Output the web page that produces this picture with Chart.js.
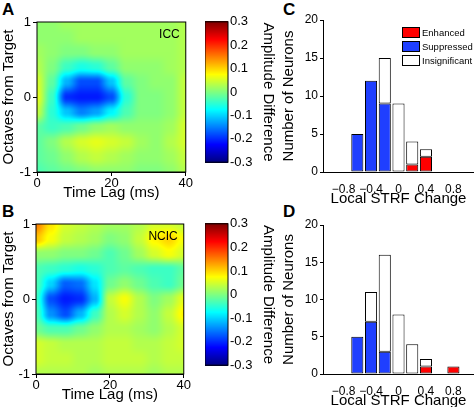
<!DOCTYPE html>
<html><head><meta charset="utf-8">
<script src="https://cdn.jsdelivr.net/npm/chart.js@4"></script>
<style>
body{margin:0;background:#fff;width:474px;height:407px;overflow:hidden;position:relative;font-family:"Liberation Sans",Arial,sans-serif}
.c{position:absolute}
.lt{position:absolute;font-weight:bold;font-size:17px;color:#000}
</style></head><body>
<div class="lt" style="left:2px;top:0px">A</div>
<div class="lt" style="left:2px;top:202px">B</div>
<div class="lt" style="left:283px;top:0px">C</div>
<div class="lt" style="left:283px;top:202px">D</div>
<div class="c" style="left:0;top:12px;width:193px;height:190px"><canvas id="hA"></canvas></div>
<div class="c" style="left:205px;top:12px;width:72px;height:160px"><canvas id="cA"></canvas></div>
<div class="c" style="left:0;top:214px;width:191px;height:190px"><canvas id="hB"></canvas></div>
<div class="c" style="left:205px;top:214px;width:72px;height:161px"><canvas id="cB"></canvas></div>
<div class="c" style="left:280px;top:10px;width:194px;height:198px"><canvas id="bC"></canvas></div>
<div class="c" style="left:280px;top:215px;width:194px;height:195px"><canvas id="bD"></canvas></div>
<script>
// heatmap grid: columns time lag 0..40 step 4, rows octaves 1..-1 step 0.2
const lagValues=[0,4,8,12,16,20,24,28,32,36,40];
const octaveValues=[1,0.8,0.6,0.4,0.2,0,-0.2,-0.4,-0.6,-0.8,-1];
const iccGrid=[
[0.01,0.01,0.02,0.02,0.02,0.02,0.02,0.02,0.02,0.02,0.03],
[0.01,0.01,0.01,0.02,0.02,0.02,0.02,0.02,0.02,0.02,0.03],
[0.02,0.01,0.0,0.0,0.01,0.01,0.02,0.02,0.02,0.02,0.03],
[0.03,0.0,-0.04,-0.06,-0.05,-0.02,0.01,0.01,0.01,0.02,0.03],
[0.05,-0.02,-0.12,-0.18,-0.18,-0.11,-0.02,0.0,0.01,0.01,0.04],
[0.06,-0.04,-0.2,-0.21,-0.21,-0.18,-0.05,0.0,0.0,0.01,0.04],
[0.04,-0.05,-0.11,-0.15,-0.13,-0.08,-0.03,0.0,0.0,0.01,0.04],
[-0.02,-0.04,-0.03,-0.01,0.01,0.02,0.01,0.01,0.01,0.02,0.05],
[-0.02,0.0,0.03,0.05,0.06,0.05,0.04,0.02,0.01,0.03,0.05],
[-0.02,-0.01,0.01,0.03,0.04,0.03,0.02,0.01,0.01,0.02,0.04],
[-0.03,-0.02,-0.01,0.0,0.01,0.01,0.01,0.0,0.0,0.01,0.03]];
const ncicGrid=[
[0.15,0.09,0.05,0.04,0.03,0.02,0.02,0.03,0.05,0.05,0.04],
[0.11,0.07,0.04,0.03,0.02,0.0,0.01,0.04,0.08,0.1,0.07],
[0.01,0.01,0.0,0.0,-0.01,-0.03,-0.01,0.02,0.05,0.07,0.05],
[-0.03,-0.04,-0.05,-0.06,-0.05,-0.03,-0.02,-0.03,-0.04,-0.04,-0.02],
[-0.03,-0.1,-0.17,-0.16,-0.09,-0.01,0.01,-0.01,-0.03,-0.04,-0.01],
[-0.04,-0.18,-0.21,-0.2,-0.12,0.04,0.07,0.03,0.0,0.02,0.06],
[-0.03,-0.14,-0.18,-0.12,-0.04,0.03,0.05,0.03,0.01,0.04,0.08],
[-0.01,-0.03,-0.03,-0.01,0.01,0.03,0.03,0.02,0.01,0.03,0.05],
[0.05,0.04,0.03,0.03,0.03,0.04,0.04,0.03,0.03,0.04,0.05],
[0.05,0.04,0.04,0.03,0.03,0.04,0.04,0.04,0.03,0.04,0.04],
[0.03,0.03,0.03,0.03,0.02,0.03,0.03,0.03,0.02,0.03,0.03]];
const colorTicks=[0.3,0.2,0.1,0,-0.1,-0.2,-0.3];
// histograms
const bins=['-1.0','-0.8','-0.6','-0.4','-0.2','0','0.2','0.4','0.6','0.8','1.0'];
const binTickLabels=['-0.8','-0.4','0','0.4','0.8'];
const cEnhanced=[0,0,0,0,0,0,1,2,0,0,0];
const cSuppressed=[0,0,5,12,9,0,0,0,0,0,0];
const cInsignificant=[0,0,0,0,6,9,3,1,0,0,0];
const dEnhanced=[0,0,0,0,0,0,0,1,0,1,0];
const dSuppressed=[0,0,5,7,3,0,0,0,0,0,0];
const dInsignificant=[0,0,0,4,13,8,4,1,0,0,0];

const FONT='"Liberation Sans", Arial, sans-serif';
Chart.defaults.font.family=FONT;
Chart.defaults.color='#000';
Chart.defaults.animation=false;

function jet(v){
  let t=(v+0.3)/0.6; t=Math.max(0,Math.min(1,t));
  const c=x=>Math.round(255*Math.max(0,Math.min(1,1.5-Math.abs(4*t-x))));
  return [c(3),c(2),c(1)];
}
function sampleGrid(grid,x,y){
  let fx=(x-lagValues[0])/(lagValues[1]-lagValues[0]);
  let fy=(octaveValues[0]-y)/(octaveValues[0]-octaveValues[1]);
  fx=Math.max(0,Math.min(lagValues.length-1.001,fx));
  fy=Math.max(0,Math.min(octaveValues.length-1.001,fy));
  const i=Math.floor(fx),j=Math.floor(fy),a=fx-i,b=fy-j;
  const sa=a*a*(3-2*a), sb=b*b*(3-2*b);
  return grid[j][i]*(1-sa)*(1-sb)+grid[j][i+1]*sa*(1-sb)+grid[j+1][i]*(1-sa)*sb+grid[j+1][i+1]*sa*sb;
}
const heatPlugin={id:'heat',beforeDatasetsDraw(chart,args,opts){
  const {ctx,chartArea:a,scales:{x,y}}=chart;
  const w=Math.round(a.right-a.left),h=Math.round(a.bottom-a.top);
  const img=ctx.createImageData(w,h);
  for(let py=0;py<h;py++){const yv=y.getValueForPixel(a.top+py+0.5);
    for(let px=0;px<w;px++){const xv=x.getValueForPixel(a.left+px+0.5);
      const c=jet(sampleGrid(opts.grid,xv,yv));const k=(py*w+px)*4;
      img.data[k]=c[0];img.data[k+1]=c[1];img.data[k+2]=c[2];img.data[k+3]=255;}}
  const dpr=chart.currentDevicePixelRatio||1;
  ctx.putImageData(img,Math.round(a.left*dpr),Math.round(a.top*dpr));
  ctx.save();ctx.strokeStyle='#000';ctx.lineWidth=1;ctx.strokeRect(a.left,a.top,a.right-a.left,a.bottom-a.top);
  ctx.font='12px '+FONT;ctx.fillStyle='#000';ctx.textAlign='right';ctx.textBaseline='top';
  ctx.fillText(opts.label,a.right-6,a.top+7);ctx.restore();
}};
function heat(id,grid,label,yw){
  new Chart(document.getElementById(id),{type:'scatter',data:{datasets:[]},plugins:[heatPlugin],
    options:{responsive:true,maintainAspectRatio:false,devicePixelRatio:1,layout:{padding:{top:10,right:3}},
      plugins:{legend:{display:false},tooltip:{enabled:false},heat:{grid,label}},
      scales:{
        x:{type:'linear',min:0,max:40,ticks:{stepSize:20,font:{size:13},padding:0,maxRotation:0},
          grid:{drawOnChartArea:false,tickLength:4,tickColor:'#000'},border:{color:'#000'},
          title:{display:true,text:'Time Lag (ms)',font:{size:15},padding:{top:0,bottom:0}},
          afterFit(s){s.height=30;}},
        y:{type:'linear',min:-1,max:1,ticks:{stepSize:1,font:{size:13},padding:2},
          grid:{drawOnChartArea:false,tickLength:4,tickColor:'#000'},border:{color:'#000'},
          title:{display:true,text:'Octaves from Target',font:{size:15},padding:{top:0,bottom:2}},
          afterFit(s){s.width=yw;}}}}});
}
const barPlugin={id:'cbar',beforeDatasetsDraw(chart){
  const {ctx,chartArea:a,scales:{y}}=chart;
  for(let py=Math.floor(a.top);py<a.bottom;py++){const c=jet(y.getValueForPixel(py+0.5));
    ctx.fillStyle=`rgb(${c[0]},${c[1]},${c[2]})`;ctx.fillRect(a.left,py,a.right-a.left,1);}
  ctx.strokeStyle='#000';ctx.lineWidth=1;ctx.strokeRect(a.left,a.top,a.right-a.left,a.bottom-a.top);
}};
function cbar(id){
  new Chart(document.getElementById(id),{type:'scatter',data:{datasets:[]},plugins:[barPlugin],
    options:{responsive:true,maintainAspectRatio:false,devicePixelRatio:1,layout:{padding:0},
      plugins:{legend:{display:false},tooltip:{enabled:false}},
      scales:{x:{display:false,min:0,max:1},
        y:{position:'right',min:-0.3,max:0.3,afterBuildTicks(s){s.ticks=colorTicks.map(v=>({value:v}));},
          ticks:{font:{size:13},padding:2,callback:v=>String(Math.round(v*10)/10)},
          grid:{drawOnChartArea:false,drawTicks:false},border:{display:false},
          title:{display:true,text:'Amplitude Difference',font:{size:15},padding:{top:0,bottom:0}},
          afterFit(s){s.width=49;}}}}});
}
const legendPlugin={id:'ilegend',afterDraw(chart,args,opts){
  if(!opts.show)return;
  const {ctx,chartArea:a}=chart;ctx.save();ctx.font='9.5px '+FONT;ctx.textBaseline='middle';
  chart.data.datasets.forEach((d,i)=>{const x=a.right-72,y=a.top+7+i*14;
    ctx.fillStyle=d.backgroundColor;ctx.fillRect(x,y,17,10);ctx.strokeStyle='#000';ctx.lineWidth=1;ctx.strokeRect(x+0.5,y+0.5,17,10);
    ctx.fillStyle='#000';ctx.fillText(d.label,x+20,y+6);});
  ctx.restore();
}};
function hist(id,enh,sup,ins,showLegend){
  const ds=(label,data,color)=>({label,data,backgroundColor:color,borderColor:'#000',borderWidth:1,borderSkipped:false,barPercentage:0.88,categoryPercentage:1});
  new Chart(document.getElementById(id),{type:'bar',
    data:{labels:bins,datasets:[ds('Enhanced',enh,'#ff0000'),ds('Suppressed',sup,'#1f3fff'),ds('Insignificant',ins,'#ffffff')]},
    plugins:[legendPlugin],
    options:{responsive:true,maintainAspectRatio:false,devicePixelRatio:1,layout:{padding:{top:10,right:0}},
      plugins:{legend:{display:false},tooltip:{enabled:false},ilegend:{show:showLegend}},
      scales:{
        x:{stacked:true,ticks:{autoSkip:false,maxRotation:0,font:{size:12},padding:2,
            callback(v){const l=bins[v];return binTickLabels.includes(l)?l.replace('-','\u2212'):'';}},
          grid:{display:false},border:{color:'#000'},
          title:{display:true,text:'Local STRF Change',font:{size:15},padding:{top:3,bottom:0}},
          afterFit(s){s.height=36;}},
        y:{stacked:true,min:0,max:20,ticks:{stepSize:5,font:{size:12},padding:2},
          grid:{drawOnChartArea:false,tickLength:3,tickColor:'#000'},border:{color:'#000'},
          title:{display:true,text:'Number of Neurons',font:{size:15},padding:{top:0,bottom:2}},
          afterFit(s){s.width=43;}}}}});
}
heat('hA',iccGrid,'ICC',37);
heat('hB',ncicGrid,'NCIC',36);
cbar('cA');cbar('cB');
hist('bC',cEnhanced,cSuppressed,cInsignificant,true);
hist('bD',dEnhanced,dSuppressed,dInsignificant,false);
</script></body></html>
